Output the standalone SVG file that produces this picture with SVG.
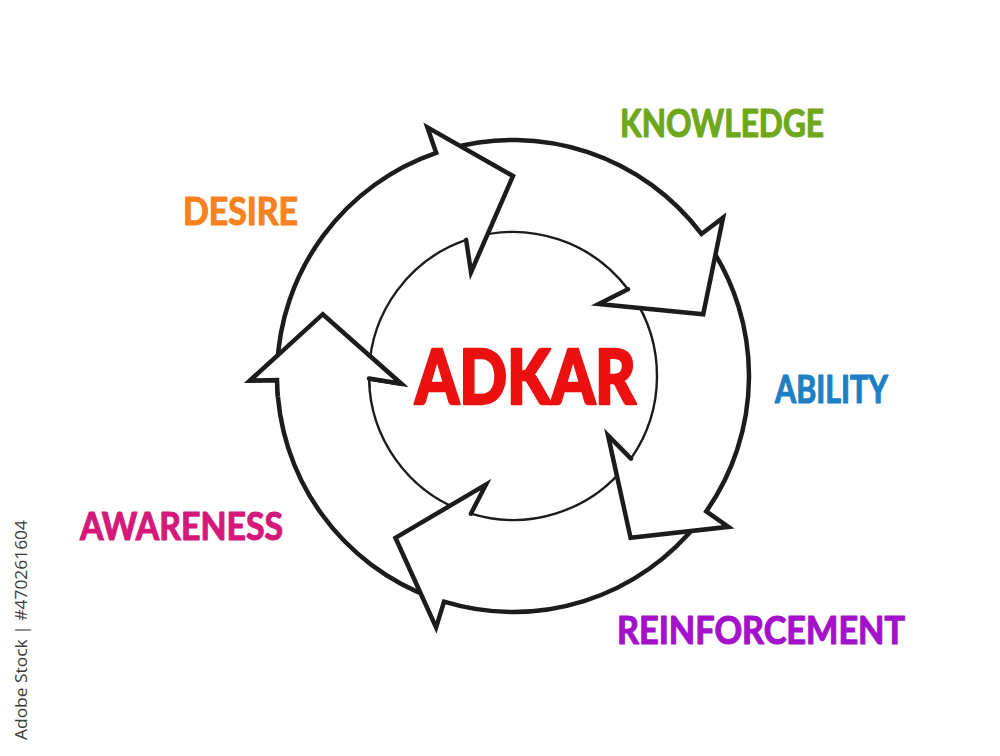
<svg xmlns="http://www.w3.org/2000/svg" xmlns:xlink="http://www.w3.org/1999/xlink" width="1000" height="756" viewBox="0 0 1000 756">
  <style>
    .fill { fill: #ffffff; stroke: none; }
    .edge { fill: none; stroke: #1c1c1c; stroke-width: 4.5; stroke-linejoin: miter; stroke-linecap: round; }
    .inner { fill: none; stroke: #1c1c1c; stroke-width: 2.4; stroke-linecap: round; }
    .lbl { font-family: "Lato", "Liberation Sans", "DejaVu Sans", sans-serif; font-weight: 700; font-size: 38px; stroke-width: 1.2; stroke-linejoin: round; }
    .title { font-family: "Lato", "Liberation Sans", "DejaVu Sans", sans-serif; font-weight: 900; font-size: 76px; fill: #ec1111; stroke: #ec1111; stroke-width: 2.5; stroke-linejoin: round; }
    .credit { font-family: "Open Sans", "Liberation Sans", sans-serif; font-size: 16px; fill: #3a3a3a; }
  </style>
  <defs>
    <clipPath id="clipHead5">
      <polygon points="513,376 194,404 150,330 216,256"/>
    </clipPath>
  </defs>
  <rect width="1000" height="756" fill="#ffffff"/>

  <g id="connectors">
    <g id="arrow-awareness">
      <path class="fill" d="M432.28,597.77 A236,236 0 0 1 277.04,380.12 L250.04,380.59 L322.79,314.20 L401.27,383.81 L369.02,378.51 A144,144 0 0 0 463.75,511.31 Z"/>
      <path class="edge" d="M432.28,597.77 A236,236 0 0 1 277.04,380.12 L250.04,380.59 L322.79,314.20 L401.27,383.81 L369.02,378.51"/>
      <path class="inner" d="M369.02,378.51 A144,144 0 0 0 463.75,511.31"/>
    </g>
    <g id="arrow-reinforcement">
      <path class="fill" d="M698.97,521.30 A236,236 0 0 1 444.00,601.69 L436.11,627.51 L395.44,537.80 L485.90,484.67 L470.90,513.71 A144,144 0 0 0 626.47,464.66 Z"/>
      <path class="edge" d="M698.97,521.30 A236,236 0 0 1 444.00,601.69 L436.11,627.51 L395.44,537.80 L485.90,484.67 L470.90,513.71"/>
      <path class="inner" d="M470.90,513.71 A144,144 0 0 0 626.47,464.66"/>
    </g>
    <g id="arrow-ability">
      <path class="fill" d="M708.65,244.03 A236,236 0 0 1 706.32,511.36 L728.44,526.85 L630.56,537.80 L607.98,435.35 L630.96,458.60 A144,144 0 0 0 632.38,295.48 Z"/>
      <path class="edge" d="M708.65,244.03 A236,236 0 0 1 706.32,511.36 L728.44,526.85 L630.56,537.80 L607.98,435.35 L630.96,458.60"/>
      <path class="inner" d="M630.96,458.60 A144,144 0 0 0 632.38,295.48"/>
    </g>
    <g id="arrow-knowledge">
      <path class="fill" d="M447.95,149.14 A236,236 0 0 1 701.48,233.97 L723.04,217.72 L703.21,314.20 L598.80,304.01 L628.00,289.34 A144,144 0 0 0 473.31,237.58 Z"/>
      <path class="edge" d="M447.95,149.14 A236,236 0 0 1 701.48,233.97 L723.04,217.72 L703.21,314.20 L598.80,304.01 L628.00,289.34"/>
      <path class="inner" d="M628.00,289.34 A144,144 0 0 0 473.31,237.58"/>
    </g>
    <g id="arrow-desire">
      <path class="fill" d="M277.14,367.76 A236,236 0 0 1 436.17,152.86 L427.38,127.33 L513,176 L471.04,272.16 L466.12,239.85 A144,144 0 0 0 369.09,370.97 Z"/>
      <path class="edge" d="M277.14,367.76 A236,236 0 0 1 436.17,152.86 L427.38,127.33 L513,176 L471.04,272.16 L466.12,239.85"/>
      <path class="inner" d="M466.12,239.85 A144,144 0 0 0 369.09,370.97"/>
    </g>
    <use xlink:href="#arrow-awareness" href="#arrow-awareness" clip-path="url(#clipHead5)"/>
  </g>

  <g id="node-adkar">
    <text class="title" x="415" y="404" textLength="221" lengthAdjust="spacingAndGlyphs">ADKAR</text>
  </g>
  <g id="node-awareness">
    <text class="lbl" x="80" y="540" textLength="203" lengthAdjust="spacingAndGlyphs" fill="#d4197a" stroke="#d4197a">AWARENESS</text>
  </g>
  <g id="node-desire">
    <text class="lbl" x="183" y="225" textLength="115" lengthAdjust="spacingAndGlyphs" fill="#f7821f" stroke="#f7821f">DESIRE</text>
  </g>
  <g id="node-knowledge">
    <text class="lbl" x="620" y="137" textLength="204" lengthAdjust="spacingAndGlyphs" fill="#6fa71a" stroke="#6fa71a">KNOWLEDGE</text>
  </g>
  <g id="node-ability">
    <text class="lbl" x="775" y="403" textLength="113" lengthAdjust="spacingAndGlyphs" fill="#1e7fc4" stroke="#1e7fc4">ABILITY</text>
  </g>
  <g id="node-reinforcement">
    <text class="lbl" x="617" y="644" textLength="288" lengthAdjust="spacingAndGlyphs" fill="#a312c9" stroke="#a312c9">REINFORCEMENT</text>
  </g>

  <g id="credit">
    <text class="credit" transform="translate(27,740) rotate(-90)" x="0" y="0" textLength="220" lengthAdjust="spacingAndGlyphs">Adobe Stock | #470261604</text>
  </g>
</svg>
